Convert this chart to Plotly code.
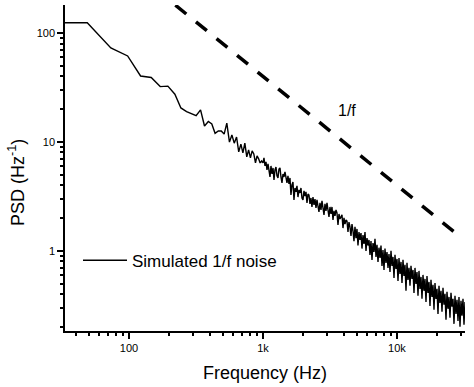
import plotly.graph_objects as go

# ---- data ----
freq_low = [24.4, 48.8, 73.2, 97.7, 122, 146.5, 171, 195, 220, 244, 269, 293, 317, 342,
            366, 391, 415, 439, 464, 488, 513, 537, 562, 586, 610, 635, 659, 684, 708,
            732, 757, 781, 806, 830, 854, 879, 903, 928, 952, 977]
psd_low = [124, 124, 73, 61.5, 40.3, 39, 32.2, 32.5, 27.4, 20.5, 19.0, 18.3, 17.4, 19.7,
           14.0, 15.4, 14.6, 12.0, 12.6, 12.6, 11.8, 14.9, 9.96, 11.6, 9.75, 11.1, 8.1, 9.55,
           7.93, 9.75, 7.29, 8.45, 7.14, 8.27, 7.76, 6.42, 7.44, 6.99, 6.42, 6.70]

freq_mid = [1000, 1017, 1035, 1053, 1071, 1090, 1109, 1128, 1147, 1167,
            1188, 1208, 1229, 1250, 1272, 1294, 1316, 1339, 1362, 1386,
            1410, 1434, 1459, 1484, 1510, 1536, 1563, 1590, 1617, 1645,
            1674, 1703, 1733, 1763, 1793, 1824, 1856, 1888, 1921, 1954,
            1988, 2023, 2058, 2093, 2130, 2166, 2204, 2242, 2281, 2320,
            2361, 2402, 2444, 2486, 2529, 2573, 2617, 2663, 2709, 2756,
            2804, 2853, 2902, 2952, 3003, 3055, 3108, 3162, 3217, 3273,
            3330, 3387, 3446, 3506, 3566, 3628, 3691, 3755, 3820, 3886,
            3954, 4022, 4092, 4163, 4235, 4308, 4383, 4459]
psd_mid = [6.42, 7.13, 6.02, 6.55, 5.53, 6.28, 5.30, 4.77, 6.02, 5.08,
           5.77, 4.48, 5.53, 5.89, 4.88, 4.67, 5.65, 5.77, 4.77, 4.20,
           5.08, 4.77, 5.30, 4.48, 4.20, 4.88, 4.11, 4.67, 3.26, 4.03,
           4.29, 2.94, 3.78, 3.48, 3.95, 3.12, 3.63, 3.40, 3.78, 3.06,
           2.94, 3.55, 3.19, 3.48, 2.76, 3.33, 3.26, 2.70, 3.06, 2.53,
           3.12, 2.64, 2.99, 2.48, 2.94, 2.58, 2.28, 2.76, 2.38, 2.88,
           2.42, 2.14, 2.70, 2.33, 2.76, 2.42, 2.05, 2.53, 2.18, 2.53,
           1.92, 2.33, 2.10, 2.38, 2.23, 1.73, 2.18, 1.96, 2.10, 2.14,
           1.62, 2.01, 1.76, 1.92, 1.88, 1.49, 1.84, 1.66]

freq_high = [4536, 4615, 4695, 4776, 4859, 4943, 5029, 5116, 5205, 5295,
             5387, 5480, 5576, 5672, 5771, 5871, 5972, 6076, 6181, 6288,
             6397, 6508, 6621, 6736, 6853, 6971, 7092, 7215, 7340, 7467,
             7597, 7728, 7863, 7999, 8138, 8279, 8422, 8568, 8717, 8868,
             9022, 9178, 9337, 9499, 9663, 9831, 10001, 10175, 10351, 10531,
             10713, 10899, 11088, 11280, 11475, 11674, 11877, 12083, 12292, 12505,
             12722, 12943, 13167, 13395, 13627, 13863, 14103, 14348, 14597, 14850,
             15107, 15369, 15635, 15906, 16182, 16462, 16748, 17038, 17333, 17634,
             17939, 18250, 18567, 18889, 19216, 19549, 19888, 20233, 20583, 20940,
             21303, 21672, 22048, 22430, 22819, 23214, 23617, 24026, 24442, 24866,
             25297, 25735, 26182, 26636, 27097, 27567, 28045, 28531, 29025, 29528,
             30040, 30561, 31091, 31630, 32178]
psd_high = [1.37, 1.76, 1.53, 1.23, 1.66, 1.31, 1.59, 1.12, 1.49, 1.26,
            1.46, 1.05, 1.40, 1.16, 1.49, 1.00, 1.31, 1.12, 1.26, 0.919,
            1.23, 0.827, 1.18, 0.977, 1.29, 0.880, 1.14, 0.792, 1.07, 0.862,
            1.12, 0.728, 1.02, 0.669, 1.05, 0.776, 0.977, 0.698, 0.936, 0.641,
            1.00, 0.728, 0.880, 0.565, 0.919, 0.683, 0.844, 0.531, 0.862, 0.614,
            0.792, 0.508, 0.827, 0.589, 0.744, 0.430, 0.776, 0.542, 0.698, 0.478,
            0.728, 0.553, 0.669, 0.412, 0.698, 0.498, 0.641, 0.387, 0.655, 0.448,
            0.577, 0.363, 0.602, 0.430, 0.553, 0.340, 0.589, 0.412, 0.519, 0.313,
            0.542, 0.378, 0.488, 0.288, 0.508, 0.363, 0.448, 0.264, 0.478, 0.333,
            0.430, 0.276, 0.458, 0.320, 0.403, 0.233, 0.421, 0.294, 0.378, 0.243,
            0.412, 0.307, 0.363, 0.214, 0.387, 0.264, 0.355, 0.228, 0.378, 0.201,
            0.348, 0.254, 0.363, 0.210, 0.340]

ref_freq = [222, 28500]
ref_psd = [180, 1.40]

x_tick_vals = [100, 1000, 10000]
x_tick_text = ["100", "1k", "10k"]
y_tick_vals = [1, 10, 100]
y_tick_text = ["1", "10", "100"]

freq = freq_low + freq_mid + freq_high
psd = psd_low + psd_mid + psd_high

FONT = "Arial, 'Liberation Sans', sans-serif"

fig = go.Figure()
fig.add_trace(go.Scatter(x=freq, y=psd, mode="lines", name="Simulated 1/f noise",
                         line=dict(color="black", width=1.4)))
fig.add_trace(go.Scatter(x=ref_freq, y=ref_psd, mode="lines", showlegend=False,
                         line=dict(color="black", width=3.5, dash="14px,12.5px")))

fig.add_annotation(x=3.626, y=1.286, xref="x", yref="y", text="1/f", showarrow=False,
                   font=dict(size=16, color="black", family=FONT))
# axis titles
fig.add_annotation(x=0.5, y=-0.1288, xref="paper", yref="paper", text="Frequency (Hz)",
                   showarrow=False, xanchor="center", yanchor="middle",
                   font=dict(size=18, color="black", family=FONT))
fig.add_annotation(x=-0.12, y=0.454, xref="paper", yref="paper", text="PSD (Hz<sup>-1</sup>)",
                   showarrow=False, xanchor="center", yanchor="middle", textangle=-90,
                   font=dict(size=18, color="black", family=FONT))

axis_common = dict(type="log", showline=True, linecolor="black", linewidth=1.5,
                   ticks="outside", ticklen=6, tickwidth=1.5, tickcolor="black",
                   showgrid=False, zeroline=False, mirror=False, automargin=False,
                   tickfont=dict(size=11, color="black", family=FONT),
                   minor=dict(ticks="outside", ticklen=3, tickwidth=1.5, tickcolor="black",
                              dtick="D1", showgrid=False))

fig.update_xaxes(range=[1.5224, 4.5076], tickvals=x_tick_vals, ticktext=x_tick_text,
                 **axis_common)
fig.update_yaxes(range=[-0.7352, 2.2567], tickvals=y_tick_vals, ticktext=y_tick_text,
                 **axis_common)

fig.update_layout(width=474, height=387, margin=dict(l=65, r=9, t=5, b=56, autoexpand=False),
                  paper_bgcolor="white", plot_bgcolor="white",
                  showlegend=True,
                  legend=dict(x=0.0325, y=0.2156, xanchor="left", yanchor="middle",
                              bgcolor="rgba(0,0,0,0)", itemwidth=44,
                              font=dict(size=17, color="black", family=FONT)))

fig.write_html("out.html", config={"displayModeBar": False},
               post_script="document.body.style.margin='0';document.body.style.overflow='hidden';")
